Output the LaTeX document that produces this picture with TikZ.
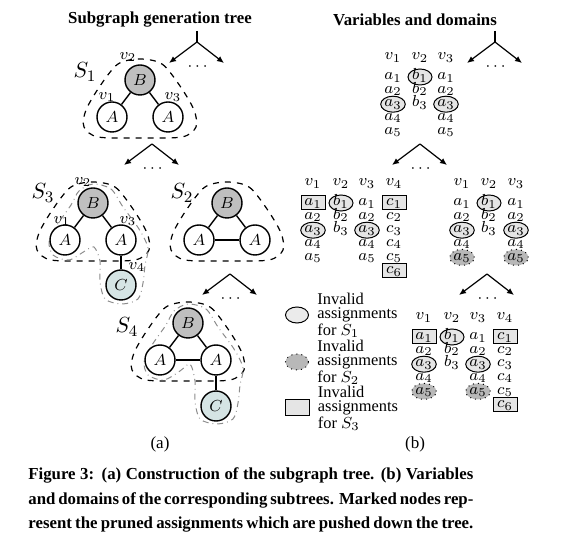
\documentclass[tikz,border=0pt]{standalone}
\usepackage{fontspec}
\setmainfont{Liberation Serif}
\usepackage{amsmath}
\usepackage{xcolor}
\usetikzlibrary{shapes.geometric,arrows.meta,positioning}
\definecolor{cfill}{RGB}{213,228,228}

\begin{document}
\begin{tikzpicture}[
  x=0.5pt, y=-0.5pt,
  every node/.style={font=\fontsize{8.5}{9}\selectfont},
  vert/.style={circle, draw, line width=0.7pt, fill=white, minimum size=15pt,
               inner sep=0pt, font=\fontsize{8}{9}\selectfont},
  vb/.style={vert, fill=black!25},
  vc/.style={vert, fill=cfill},
  edge/.style={line width=0.7pt},
  hull/.style={dashed, line width=0.6pt},
  hullx/.style={dash dot, draw=black!45, line width=0.5pt},
  slab/.style={font=\fontsize{11}{12}\selectfont},
  arr/.style={-{Latex[length=3.5pt, width=3pt]}, line width=0.6pt},
  ent/.style={inner sep=0pt, text height=4pt, text depth=1.2pt},
  inv1/.style={ent, ellipse, draw, line width=0.5pt, fill=black!10,
               minimum width=12pt, minimum height=8pt},
  inv2/.style={inv1, dotted, fill=black!28},
  inv3/.style={ent, rectangle, draw, line width=0.5pt, fill=black!10,
               minimum width=12pt, minimum height=7pt},
  legend/.style={align=left, inner sep=0pt, font=\fontsize{8.2}{7}\selectfont},
  ttl/.style={font=\fontsize{8.4}{10}\selectfont\bfseries}]

\useasboundingbox (0,0) rectangle (584,539);

\node[ttl] (ttla) at (160,20) {Subgraph generation tree};
\node[ttl] (ttlb) at (415,20) {Variables and domains};

% tree forks
\foreach \n/\x/\y in {f1/197/42, f2/495/42, f3/152/144, f4/230/274, f5/420/144, f6/487/274} {
  \coordinate (\n) at (\x,\y);
  \coordinate (\n-l) at (\x-28,\y+21);
  \coordinate (\n-r) at (\x+27,\y+21);
  \draw[arr] (\n) -- (\n-l);
  \draw[arr] (\n) -- (\n-r);
  \node (\n-d) at (\x+2,\y+25) {$\cdots$};
}
\coordinate (f1-top) at (197,31);
\coordinate (f2-top) at (495,31);
\draw[line width=0.6pt] (f1-top) -- (f1);
\draw[line width=0.6pt] (f2-top) -- (f2);

% S1
\begin{scope}[shift={(140,80)}]
  \draw[hull] plot[smooth cycle] coordinates {(0,-21) (22,-16) (40,6) (54,30) (56,47) (42,57) (0,58) (-42,57) (-56,47) (-54,30) (-40,6) (-22,-16)};
  \node[vb] (s1b) at (0,0) {$B$};
  \node[vert] (s1a1) at (-28,37) {$A$};
  \node[vert] (s1a2) at (28,37) {$A$};
  \draw[edge] (s1b) -- (s1a1);
  \draw[edge] (s1b) -- (s1a2);
  \node (s1v2) at (-12,-23) {$v_2$};
  \node (s1v1) at (-33,17) {$v_1$};
  \node (s1v3) at (33,17) {$v_3$};
\end{scope}
\node[slab] (s1lab) at (85,72) {$S_1$};

% S3
\begin{scope}[shift={(93,203)}]
  \draw[hull] plot[smooth cycle] coordinates {(0,-21) (22,-16) (40,6) (54,30) (56,47) (42,57) (0,58) (-42,57) (-56,47) (-54,30) (-40,6) (-22,-16)};
  \draw[hullx] plot[smooth cycle] coordinates {(0,-19) (18,-14) (30,4) (46,26) (55,45) (52,62) (50,80) (45,96) (29,101) (12,96) (7,78) (7,58) (1,44) (-8,48) (-24,57) (-40,52) (-44,38) (-36,22) (-22,2) (-14,-12)};
  \node[vb] (s3b) at (0,0) {$B$};
  \node[vert] (s3a1) at (-28,37) {$A$};
  \node[vert] (s3a2) at (28,37) {$A$};
  \node[vc] (s3c) at (28,82) {$C$};
  \draw[edge] (s3b) -- (s3a1);
  \draw[edge] (s3b) -- (s3a2);
  \draw[edge] (s3a2) -- (s3c);
  \node (s3v2) at (-10,-21) {$v_2$};
  \node (s3v1) at (-31,18) {$v_1$};
  \node (s3v3) at (35,18) {$v_3$};
  \node (s3v4) at (44,64) {$v_4$};
\end{scope}
\node[slab] (s3lab) at (43,193) {$S_3$};

% S2
\begin{scope}[shift={(227,203)}]
  \draw[hull] plot[smooth cycle] coordinates {(0,-21) (22,-16) (40,6) (54,30) (56,47) (42,57) (0,58) (-42,57) (-56,47) (-54,30) (-40,6) (-22,-16)};
  \node[vb] (s2b) at (0,0) {$B$};
  \node[vert] (s2a1) at (-28,37) {$A$};
  \node[vert] (s2a2) at (28,37) {$A$};
  \draw[edge] (s2b) -- (s2a1);
  \draw[edge] (s2b) -- (s2a2);
  \draw[edge] (s2a1) -- (s2a2);
\end{scope}
\node[slab] (s2lab) at (182,193) {$S_2$};

% S4
\begin{scope}[shift={(188,323)}]
  \draw[hull] plot[smooth cycle] coordinates {(0,-21) (22,-16) (40,6) (54,30) (56,47) (42,57) (0,58) (-42,57) (-56,47) (-54,30) (-40,6) (-22,-16)};
  \draw[hullx] plot[smooth cycle] coordinates {(0,-19) (18,-14) (30,4) (46,26) (55,45) (52,62) (50,80) (45,96) (29,101) (12,96) (7,78) (7,58) (2,41) (-8,48) (-24,57) (-40,52) (-44,38) (-36,22) (-22,2) (-14,-12)};
  \node[vb] (s4b) at (0,0) {$B$};
  \node[vert] (s4a1) at (-28,37) {$A$};
  \node[vert] (s4a2) at (28,37) {$A$};
  \node[vc] (s4c) at (28,83) {$C$};
  \draw[edge] (s4b) -- (s4a1);
  \draw[edge] (s4b) -- (s4a2);
  \draw[edge] (s4a1) -- (s4a2);
  \draw[edge] (s4a2) -- (s4c);
\end{scope}
\node[slab] (s4lab) at (127,327) {$S_4$};

\node (capa) at (160,444) {(a)};

% domains of S1
\foreach \x [count=\i] in {393,420,446} \node[ent] (t1v\i) at (\x,57) {$v_\i$};
\foreach \e/\s [count=\r] in {a_1/ent,a_2/ent,a_3/inv1,a_4/ent,a_5/ent} \node[\s] (t1a-\r) at (393,63.4+13.6*\r) {$\e$};
\foreach \e/\s [count=\r] in {b_1/inv1,b_2/ent,b_3/ent} \node[\s] (t1b-\r) at (420,63.4+13.6*\r) {$\e$};
\foreach \e/\s [count=\r] in {a_1/ent,a_2/ent,a_3/inv1,a_4/ent,a_5/ent} \node[\s] (t1c-\r) at (446,63.4+13.6*\r) {$\e$};

% domains of S3
\foreach \x [count=\i] in {313,341,367,394} \node[ent] (t2v\i) at (\x,183) {$v_\i$};
\foreach \e/\s [count=\r] in {a_1/inv3,a_2/ent,a_3/inv1,a_4/ent,a_5/ent} \node[\s] (t2a-\r) at (313,189.4+13.6*\r) {$\e$};
\foreach \e/\s [count=\r] in {b_1/inv1,b_2/ent,b_3/ent} \node[\s] (t2b-\r) at (341,189.4+13.6*\r) {$\e$};
\foreach \e/\s [count=\r] in {a_1/ent,a_2/ent,a_3/inv1,a_4/ent,a_5/ent} \node[\s] (t2c-\r) at (367,189.4+13.6*\r) {$\e$};
\foreach \e/\s [count=\r] in {c_1/inv3,c_2/ent,c_3/ent,c_4/ent,c_5/ent,c_6/inv3} \node[\s] (t2d-\r) at (394,189.4+13.6*\r) {$\e$};

% domains of S2
\foreach \x [count=\i] in {462,489,516} \node[ent] (t3v\i) at (\x,183) {$v_\i$};
\foreach \e/\s [count=\r] in {a_1/ent,a_2/ent,a_3/inv1,a_4/ent,a_5/inv2} \node[\s] (t3a-\r) at (462,189.4+13.6*\r) {$\e$};
\foreach \e/\s [count=\r] in {b_1/inv1,b_2/ent,b_3/ent} \node[\s] (t3b-\r) at (489,189.4+13.6*\r) {$\e$};
\foreach \e/\s [count=\r] in {a_1/ent,a_2/ent,a_3/inv1,a_4/ent,a_5/inv2} \node[\s] (t3c-\r) at (516,189.4+13.6*\r) {$\e$};

% domains of S4
\foreach \x [count=\i] in {424,452,478,505} \node[ent] (t4v\i) at (\x,317) {$v_\i$};
\foreach \e/\s [count=\r] in {a_1/inv3,a_2/ent,a_3/inv1,a_4/ent,a_5/inv2} \node[\s] (t4a-\r) at (424,323.4+13.6*\r) {$\e$};
\foreach \e/\s [count=\r] in {b_1/inv1,b_2/ent,b_3/ent} \node[\s] (t4b-\r) at (452,323.4+13.6*\r) {$\e$};
\foreach \e/\s [count=\r] in {a_1/ent,a_2/ent,a_3/inv1,a_4/ent,a_5/inv2} \node[\s] (t4c-\r) at (478,323.4+13.6*\r) {$\e$};
\foreach \e/\s [count=\r] in {c_1/inv3,c_2/ent,c_3/ent,c_4/ent,c_5/ent,c_6/inv3} \node[\s] (t4d-\r) at (505,323.4+13.6*\r) {$\e$};

% legend
\node[inv1, minimum width=11.5pt, fill=black!8] (key1) at (297,315) {};
\node[inv2, minimum width=11.5pt] (key2) at (297,362) {};
\node[inv3, minimum height=8pt] (key3) at (297,408) {};
\node[legend, right=4pt of key1] (key1t) {Invalid\\assignments\\for $S_1$};
\node[legend, right=4pt of key2] (key2t) {Invalid\\assignments\\for $S_2$};
\node[legend, right=4pt of key3] (key3t) {Invalid\\assignments\\for $S_3$};

\node (capb) at (415,444) {(b)};

% caption
\node[ttl, anchor=base west, inner sep=0pt] (cap1) at (28,480) {\makebox[222.5pt][s]{Figure 3:\hspace{0.45em}(a) Construction of the subgraph tree. (b) Variables}};
\node[ttl, anchor=base west, inner sep=0pt] (cap2) at (28,504.5) {\makebox[222.5pt][s]{and domains of the corresponding subtrees. Marked nodes rep-}};
\node[ttl, anchor=base west, inner sep=0pt] (cap3) at (28,529) {\makebox[222.5pt][s]{resent the pruned assignments which are pushed down the tree.}};
\end{tikzpicture}
\end{document}
